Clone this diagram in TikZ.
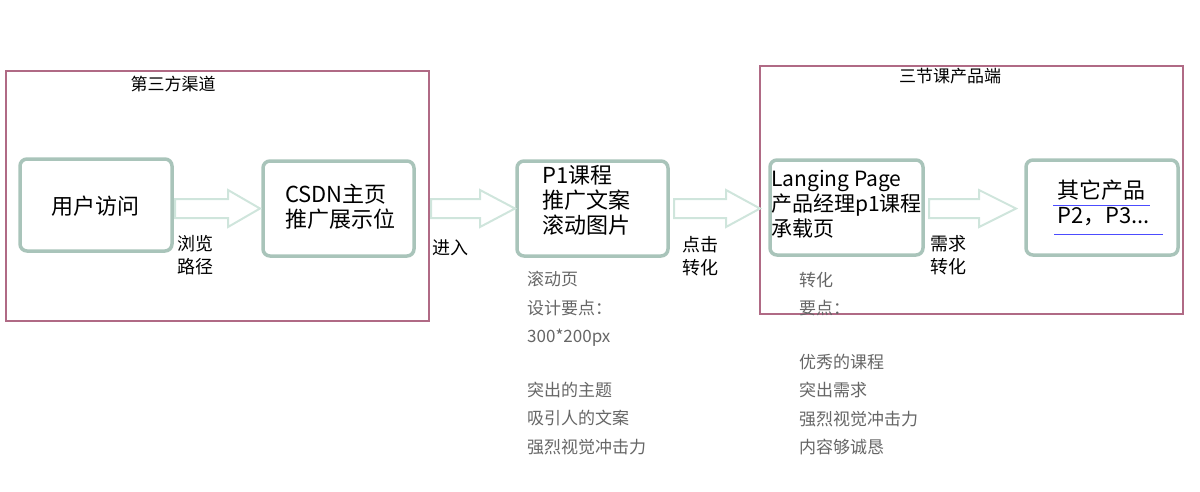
\documentclass[tikz,border=0pt]{standalone}
\usepackage{fontspec}
\setmainfont{Noto Sans CJK SC}
\definecolor{boxc}{HTML}{A9C4BA}
\definecolor{framec}{HTML}{B06A85}
\definecolor{arrc}{HTML}{CFE5DC}
\definecolor{noteg}{HTML}{666666}
\tikzset{
 bx/.style={draw=boxc,line width=3.5pt,rounded corners=7pt},
 fr/.style={draw=framec,line width=1.3pt},
 boxtxt/.style={font=\fontsize{22}{25}\selectfont,align=left,inner sep=0pt},
 lab/.style={font=\fontsize{18}{23}\selectfont,align=left,anchor=north west,inner sep=0pt},
 note/.style={font=\fontsize{17}{28.5}\selectfont,text=noteg,align=left,anchor=north west,inner sep=0pt},
 ttl/.style={font=\fontsize{17}{20}\selectfont,inner sep=0pt},
}
\newcommand{\blk}[3]{\draw[arrc,line width=2pt] (#1,199)--(#2,199)--(#2,190)--(#3,208.5)--(#2,227)--(#2,218)--(#1,218)--cycle;}
\begin{document}
\begin{tikzpicture}[x=1pt,y=-1pt]
\useasboundingbox (0,0) rectangle (1200,491);
\draw[fr] (6,71) rectangle (429,321);
\draw[fr] (760,66) rectangle (1183,314);
\node[ttl] (t1) at (173,84) {第三方渠道};
\node[ttl] (t2) at (950,76) {三节课产品端};
\draw[bx] (20,159) rectangle (172,251);
\draw[bx] (263,161) rectangle (414,256);
\draw[bx] (517,161) rectangle (668,256);
\draw[bx] (770,160) rectangle (923,255);
\draw[bx] (1026,160) rectangle (1178,255);
\node[boxtxt] (b1) at (95,206) {用户访问};
\node[boxtxt] (b2) at (340,207) {CSDN主页\\推广展示位};
\node[boxtxt,anchor=north west] (b3) at (542,165) {P1课程\\推广文案\\滚动图片};
\node[boxtxt,anchor=north west,font=\fontsize{21}{25}\selectfont] (b4) at (771,170) {Langing Page\\产品经理p1课程\\承载页};
\node[boxtxt,anchor=north west] (b5) at (1057,180) {其它产品\\P2，P3...};
\draw[blue!70,line width=0.8pt] (1053,205)--(1150,205) (1054,234)--(1163,234);
\blk{175}{228}{260}
\blk{431}{480}{515}
\blk{674}{726}{760}
\blk{929}{979}{1016}
\node[lab] (l1) at (177,235) {浏览\\路径};
\node[lab] (l2) at (432,240) {进入};
\node[lab] (l3) at (682,236) {点击\\转化};
\node[lab] (l4) at (930,235) {需求\\转化};
\node[note] (n1) at (527,271) {滚动页\\设计要点：\\300*200px\\[25pt]突出的主题\\吸引人的文案\\强烈视觉冲击力};
\node[note] (n2) at (799,272) {转化\\要点：\\[25pt]优秀的课程\\突出需求\\强烈视觉冲击力\\内容够诚恳};
\end{tikzpicture}
\end{document}
